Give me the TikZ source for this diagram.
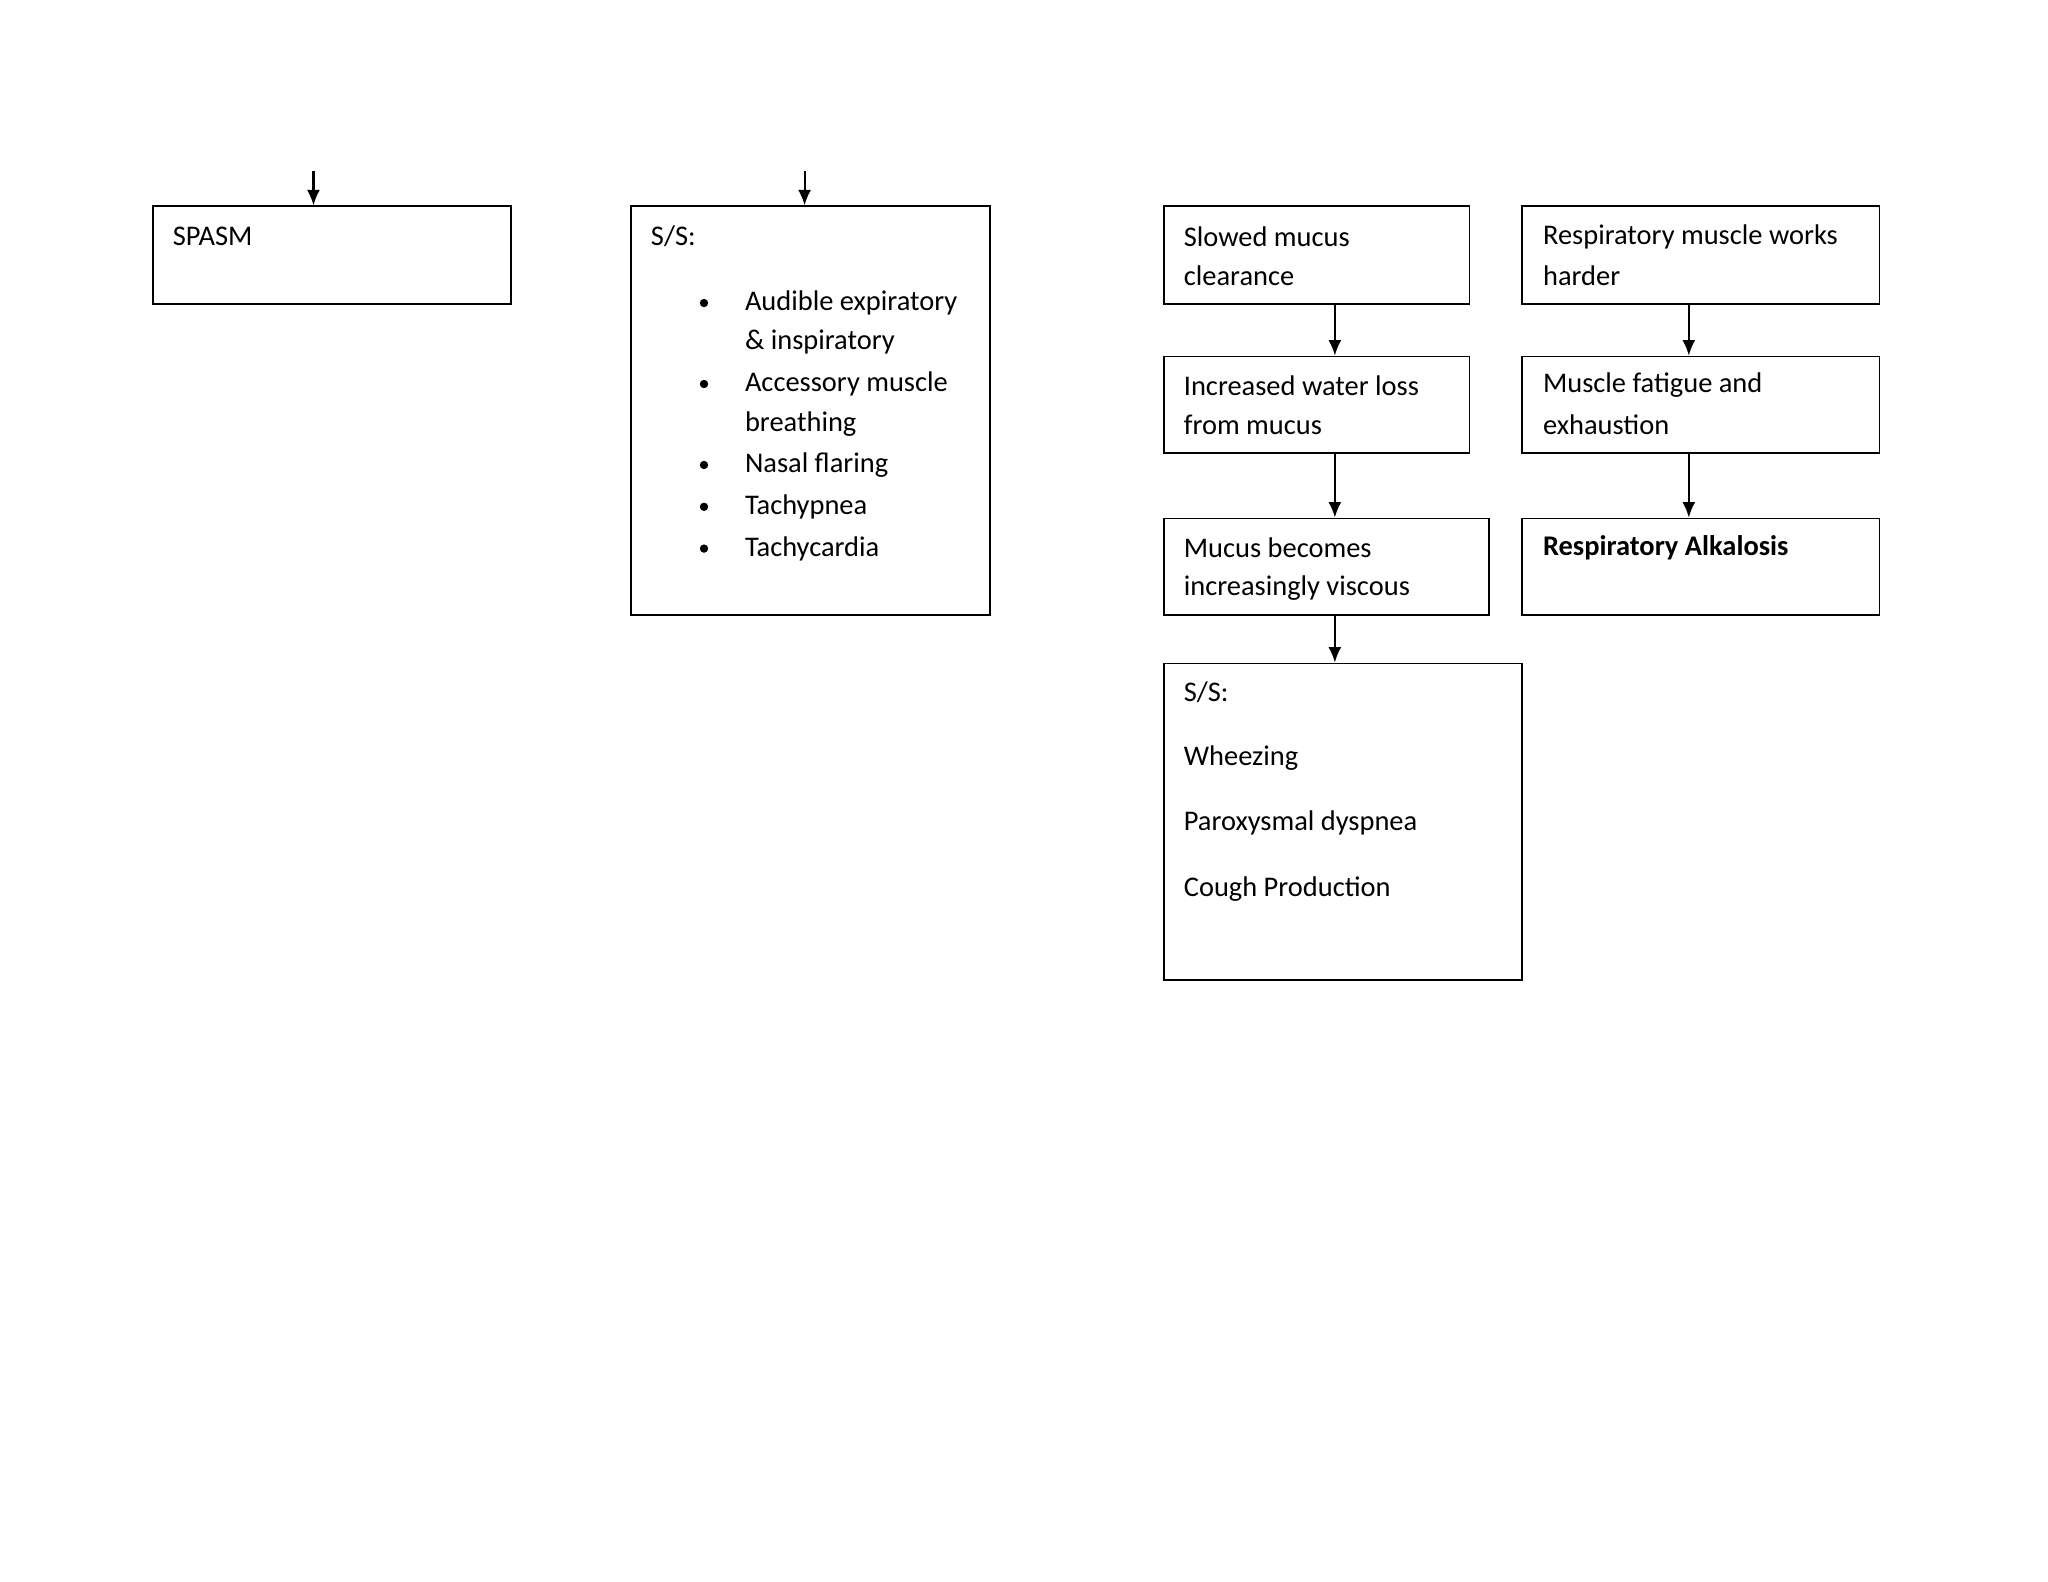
\documentclass[tikz,border=0pt]{standalone}
\usepackage{fontspec}
\setmainfont{Carlito}
\usetikzlibrary{arrows.meta}
\begin{document}
\begin{tikzpicture}[x=0.505pt,y=-0.505pt,
  box/.style={draw,line width=0.7pt,inner sep=0pt},
  txt/.style={anchor=west,inner sep=0pt,font=\fontsize{11}{15.7}\selectfont},
  arr/.style={-{Latex[length=6pt,width=5pt]},line width=0.8pt}]
\useasboundingbox (0,0) rectangle (1568,1211);
\newcommand\bx[5]{\node[box,minimum width={(#4-#2)*0.505pt},minimum height={(#5-#3)*0.505pt}] (#1) at ({(#2+#4)/2},{(#3+#5)/2}) {};}
\bx{spasm}{117}{158}{391}{233}
\bx{ss1}{483}{158}{758}{471}
\bx{slow}{891}{158}{1125}{233}
\bx{resp}{1165}{158}{1439}{233}
\bx{inc}{891}{273}{1125}{347}
\bx{fat}{1165}{273}{1439}{347}
\bx{visc}{891}{397}{1140}{471}
\bx{alk}{1165}{397}{1439}{471}
\bx{ss2}{891}{508}{1165}{750}
\coordinate (a1) at (240,131);
\coordinate (a2) at (616,131);
\draw[arr] (a1) -- (spasm.north -| a1);
\draw[arr] (a2) -- (ss1.north -| a2);
\draw[arr] (slow.south -| 1022,0) -- (inc.north -| 1022,0);
\draw[arr] (inc.south -| 1022,0) -- (visc.north -| 1022,0);
\draw[arr] (visc.south -| 1022,0) -- (ss2.north -| 1022,0);
\draw[arr] (resp.south -| 1293,0) -- (fat.north -| 1293,0);
\draw[arr] (fat.south -| 1293,0) -- (alk.north -| 1293,0);
\node[txt] (t1) at (132,181) {SPASM};
\node[txt] (t2) at (498,181) {S/S:};
\foreach \y/\t/\b in {232/Audible expiratory/1,262/\& inspiratory/0,294/Accessory muscle/1,325/breathing/0,356/Nasal flaring/1,388/Tachypnea/1,420/Tachycardia/1}{
  \node[txt] at (570,\y) {\t};
  \ifnum\b=1 \fill (539,\y) circle (3.2);\fi
}
\node[txt] at (906,181) {Slowed mucus};
\node[txt] at (906,211) {clearance};
\node[txt] at (1181,181) {Respiratory muscle works};
\node[txt] at (1181,211) {harder};
\node[txt] at (906,295) {Increased water loss};
\node[txt] at (906,325) {from mucus};
\node[txt] at (1181,295) {Muscle fatigue and};
\node[txt] at (1181,325) {exhaustion};
\node[txt] at (906,419) {Mucus becomes};
\node[txt] at (906,450) {increasingly viscous};
\node[txt,font=\fontsize{11}{15.7}\selectfont\bfseries] at (1181,419) {Respiratory Alkalosis};
\node[txt] at (906,530) {S/S:};
\node[txt] at (906,580) {Wheezing};
\node[txt] at (906,630) {Paroxysmal dyspnea};
\node[txt] at (906,681) {Cough Production};
\end{tikzpicture}
\end{document}
